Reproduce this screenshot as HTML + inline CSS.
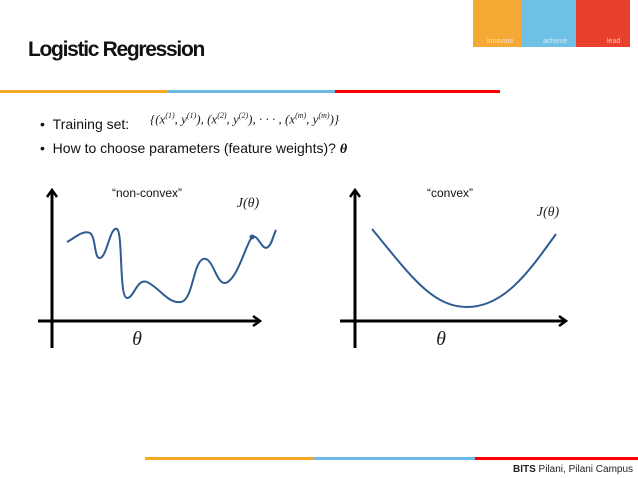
<!DOCTYPE html>
<html><head><meta charset="utf-8"><style>
body{margin:0;width:638px;height:478px;background:#fff;position:relative;overflow:hidden;font-family:"Liberation Sans",sans-serif}
.a{position:absolute}
</style></head><body>
<div class="a" style="left:473px;top:0;width:157px;height:47px">
 <div class="a" style="left:0;top:0;width:49px;height:47px;background:#f5a833"></div>
 <div class="a" style="left:49px;top:0;width:54px;height:47px;background:#6fc0e5"></div>
 <div class="a" style="left:103px;top:0;width:54px;height:47px;background:#e8402d"></div>
 <div class="a" style="left:14px;top:38px;font-size:7px;color:#fbe3c0">innovate</div>
 <div class="a" style="left:70px;top:38px;font-size:7px;color:#d6eef8">achieve</div>
 <div class="a" style="left:134px;top:38px;font-size:7px;color:#f9c8c0">lead</div>
</div>
<div class="a" style="left:28px;top:38px;font-size:21px;font-weight:bold;letter-spacing:-1.3px;color:#111">Logistic Regression</div>
<div class="a" style="left:0;top:90px;width:500px;height:3px;background:linear-gradient(90deg,#f7a823 0 168px,#6cbbe6 168px 335px,#f00 335px)"></div>
<div class="a" style="left:40px;top:116px;font-size:14px;color:#111">•&nbsp;&nbsp;Training set:</div>
<div class="a" style="left:150px;top:111px;font-family:'Liberation Serif',serif;font-style:italic;font-size:13px;color:#222">{(x<sup style="font-size:8px">(1)</sup>, y<sup style="font-size:8px">(1)</sup>), (x<sup style="font-size:8px">(2)</sup>, y<sup style="font-size:8px">(2)</sup>), · · · , (x<sup style="font-size:8px">(m)</sup>, y<sup style="font-size:8px">(m)</sup>)}</div>
<div class="a" style="left:40px;top:140px;font-size:14px;color:#111">•&nbsp;&nbsp;How to choose parameters (feature weights)? <i style="font-family:'Liberation Serif',serif;font-weight:bold">θ</i></div>
<svg class="a" style="left:0;top:0" width="638" height="478">
 <defs><marker id="ah" markerWidth="10" markerHeight="12" refX="8" refY="6" orient="auto" markerUnits="userSpaceOnUse"><path d="M1,1 L8,6 L1,11" fill="none" stroke="#000" stroke-width="2.5"/></marker></defs>
 <g>
  <line x1="52" y1="348" x2="52" y2="190" stroke="#000" stroke-width="3" marker-end="url(#ah)"/>
  <line x1="38" y1="321" x2="260" y2="321" stroke="#000" stroke-width="3" marker-end="url(#ah)"/>
  <path d="M67,242 C76,237 83,230 90,233 C96,237 94,259 100,258 C107,257 110,226 117,229 C123,233 119,298 127,298 C134,298 137,278 147,282 C160,288 168,304 181,302 C193,300 193,263 203,259 C213,256 216,284 225,283 C237,281 246,244 252,237 C258,233 262,252 268,247 C272,244 273,236 276,230" fill="none" stroke="#2f5b93" stroke-width="2"/>
  <circle cx="252" cy="237" r="2.5" fill="#2f5b93"/>
  <text x="147" y="197" text-anchor="middle" font-size="12" fill="#111">“non-convex”</text>
  <text x="248" y="207" text-anchor="middle" font-family="Liberation Serif" font-style="italic" font-size="14" fill="#222">J(θ)</text>
  <text x="137" y="345" text-anchor="middle" font-family="Liberation Serif" font-style="italic" font-size="20" fill="#222">θ</text>
 </g>
 <g>
  <line x1="355" y1="348" x2="355" y2="190" stroke="#000" stroke-width="3" marker-end="url(#ah)"/>
  <line x1="340" y1="321" x2="566" y2="321" stroke="#000" stroke-width="3" marker-end="url(#ah)"/>
  <path d="M372,229 C410,275 432,307 467,307 C505,307 530,270 556,234" fill="none" stroke="#2f5b93" stroke-width="2"/>
  <text x="450" y="197" text-anchor="middle" font-size="12" fill="#111">“convex”</text>
  <text x="548" y="216" text-anchor="middle" font-family="Liberation Serif" font-style="italic" font-size="14" fill="#222">J(θ)</text>
  <text x="441" y="345" text-anchor="middle" font-family="Liberation Serif" font-style="italic" font-size="20" fill="#222">θ</text>
 </g>
</svg>
<div class="a" style="left:145px;top:457px;width:493px;height:3px;background:linear-gradient(90deg,#f7a823 0 169px,#6cbbe6 169px 330px,#f00 330px)"></div>
<div class="a" style="left:513px;top:464px;font-size:10px;color:#222"><b>BITS</b> Pilani, Pilani Campus</div>
</body></html>
